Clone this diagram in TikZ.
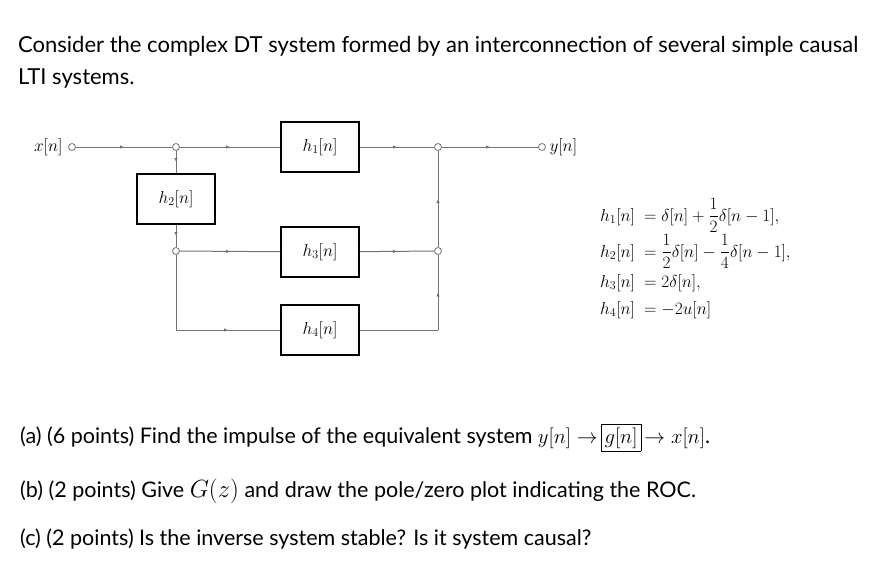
\documentclass[tikz,border=0pt]{standalone}
\usepackage{fontspec}
\usepackage{amsmath}
\setmainfont{Lato}
\usetikzlibrary{decorations.markings,arrows.meta}
\newcommand{\lhsbox}[1]{\makebox[44pt][l]{$#1$}}
\begin{document}
\begin{tikzpicture}[x=1pt,y=-1pt,
  blk/.style={draw,line width=1.8pt,minimum width=78pt,minimum height=50pt,inner sep=0pt,font=\fontsize{18}{21}\selectfont},
  wire/.style={draw=black!55,line width=1pt,postaction={decorate},decoration={markings,mark=at position 0.5 with {\arrow{Latex[length=4pt,width=3.5pt]}}}},
  plain/.style={draw=black!55,line width=1pt},
  junc/.style={circle,draw=black!55,line width=0.8pt,fill=white,inner sep=0pt,minimum size=7pt},
  txt/.style={anchor=base west,inner sep=0pt,font=\fontsize{22}{25}\selectfont},
  eqn/.style={anchor=base west,inner sep=0pt,font=\fontsize{18}{21}\selectfont}]
\useasboundingbox (0,0) rectangle (884,562);
\node[txt] (t1) at (18,52) {Consider the complex DT system formed by an interconnection of several simple causal};
\node[txt] (t2) at (18,84) {LTI systems.};
\node[anchor=east,font=\fontsize{17}{20}\selectfont] (xl) at (66,147) {$x[n]$};
\node[junc] (xin) at (72,147) {};
\node[junc] (j1) at (176,147) {};
\node[blk] (h1) at (320,147) {$h_1[n]$};
\node[blk] (h2) at (176,199) {$h_2[n]$};
\node[junc] (j2) at (176,251) {};
\node[blk] (h3) at (320,252) {$h_3[n]$};
\node[blk] (h4) at (320,330) {$h_4[n]$};
\node[junc] (r1) at (438,147) {};
\node[junc] (r2) at (438,251) {};
\coordinate (r3) at (438,330);
\coordinate (l3) at (176,330);
\node[junc] (yout) at (542,147) {};
\node[anchor=west,font=\fontsize{17}{20}\selectfont] (yl) at (546,147) {$y[n]$};
\draw[wire] (xin) -- (j1);
\draw[wire] (j1) -- (h1);
\draw[wire] (j1) -- (h2);
\draw[wire] (h2) -- (j2);
\draw[wire] (j2) -- (h3);
\draw[plain] (j2) -- (l3);
\draw[wire] (l3) -- (h4);
\draw[wire] (h1) -- (r1);
\draw[wire] (h3) -- (r2);
\draw[plain] (h4) -- (r3);
\draw[wire] (r3) -- (r2);
\draw[wire] (r2) -- (r1);
\draw[wire] (r1) -- (yout);
\node[eqn] (e1) at (600,221) {\lhsbox{h_1[n]}$=\delta[n]+\dfrac{1}{2}\delta[n-1],$};
\node[eqn] (e2) at (600,257) {\lhsbox{h_2[n]}$=\dfrac{1}{2}\delta[n]-\dfrac{1}{4}\delta[n-1],$};
\node[eqn] (e3) at (600,287) {\lhsbox{h_3[n]}$=2\delta[n],$};
\node[eqn] (e4) at (600,314) {\lhsbox{h_4[n]}$=-2u[n]$};
\node[txt,font=\fontsize{21.5}{25}\selectfont] (qa) at (20,443) {(a) (6 points) Find the impulse of the equivalent system $y[n]\rightarrow$\,\fbox{$g[n]$}\,$\rightarrow x[n]$.};
\node[txt,font=\fontsize{21.5}{25}\selectfont] (qb) at (20,497) {(b) (2 points) Give {\fontsize{26}{30}\selectfont$G(z)$} and draw the pole/zero plot indicating the ROC.};
\node[txt,font=\fontsize{21.5}{25}\selectfont] (qc) at (20,545) {(c) (2 points) Is the inverse system stable? Is it system causal?};
\end{tikzpicture}
\end{document}
